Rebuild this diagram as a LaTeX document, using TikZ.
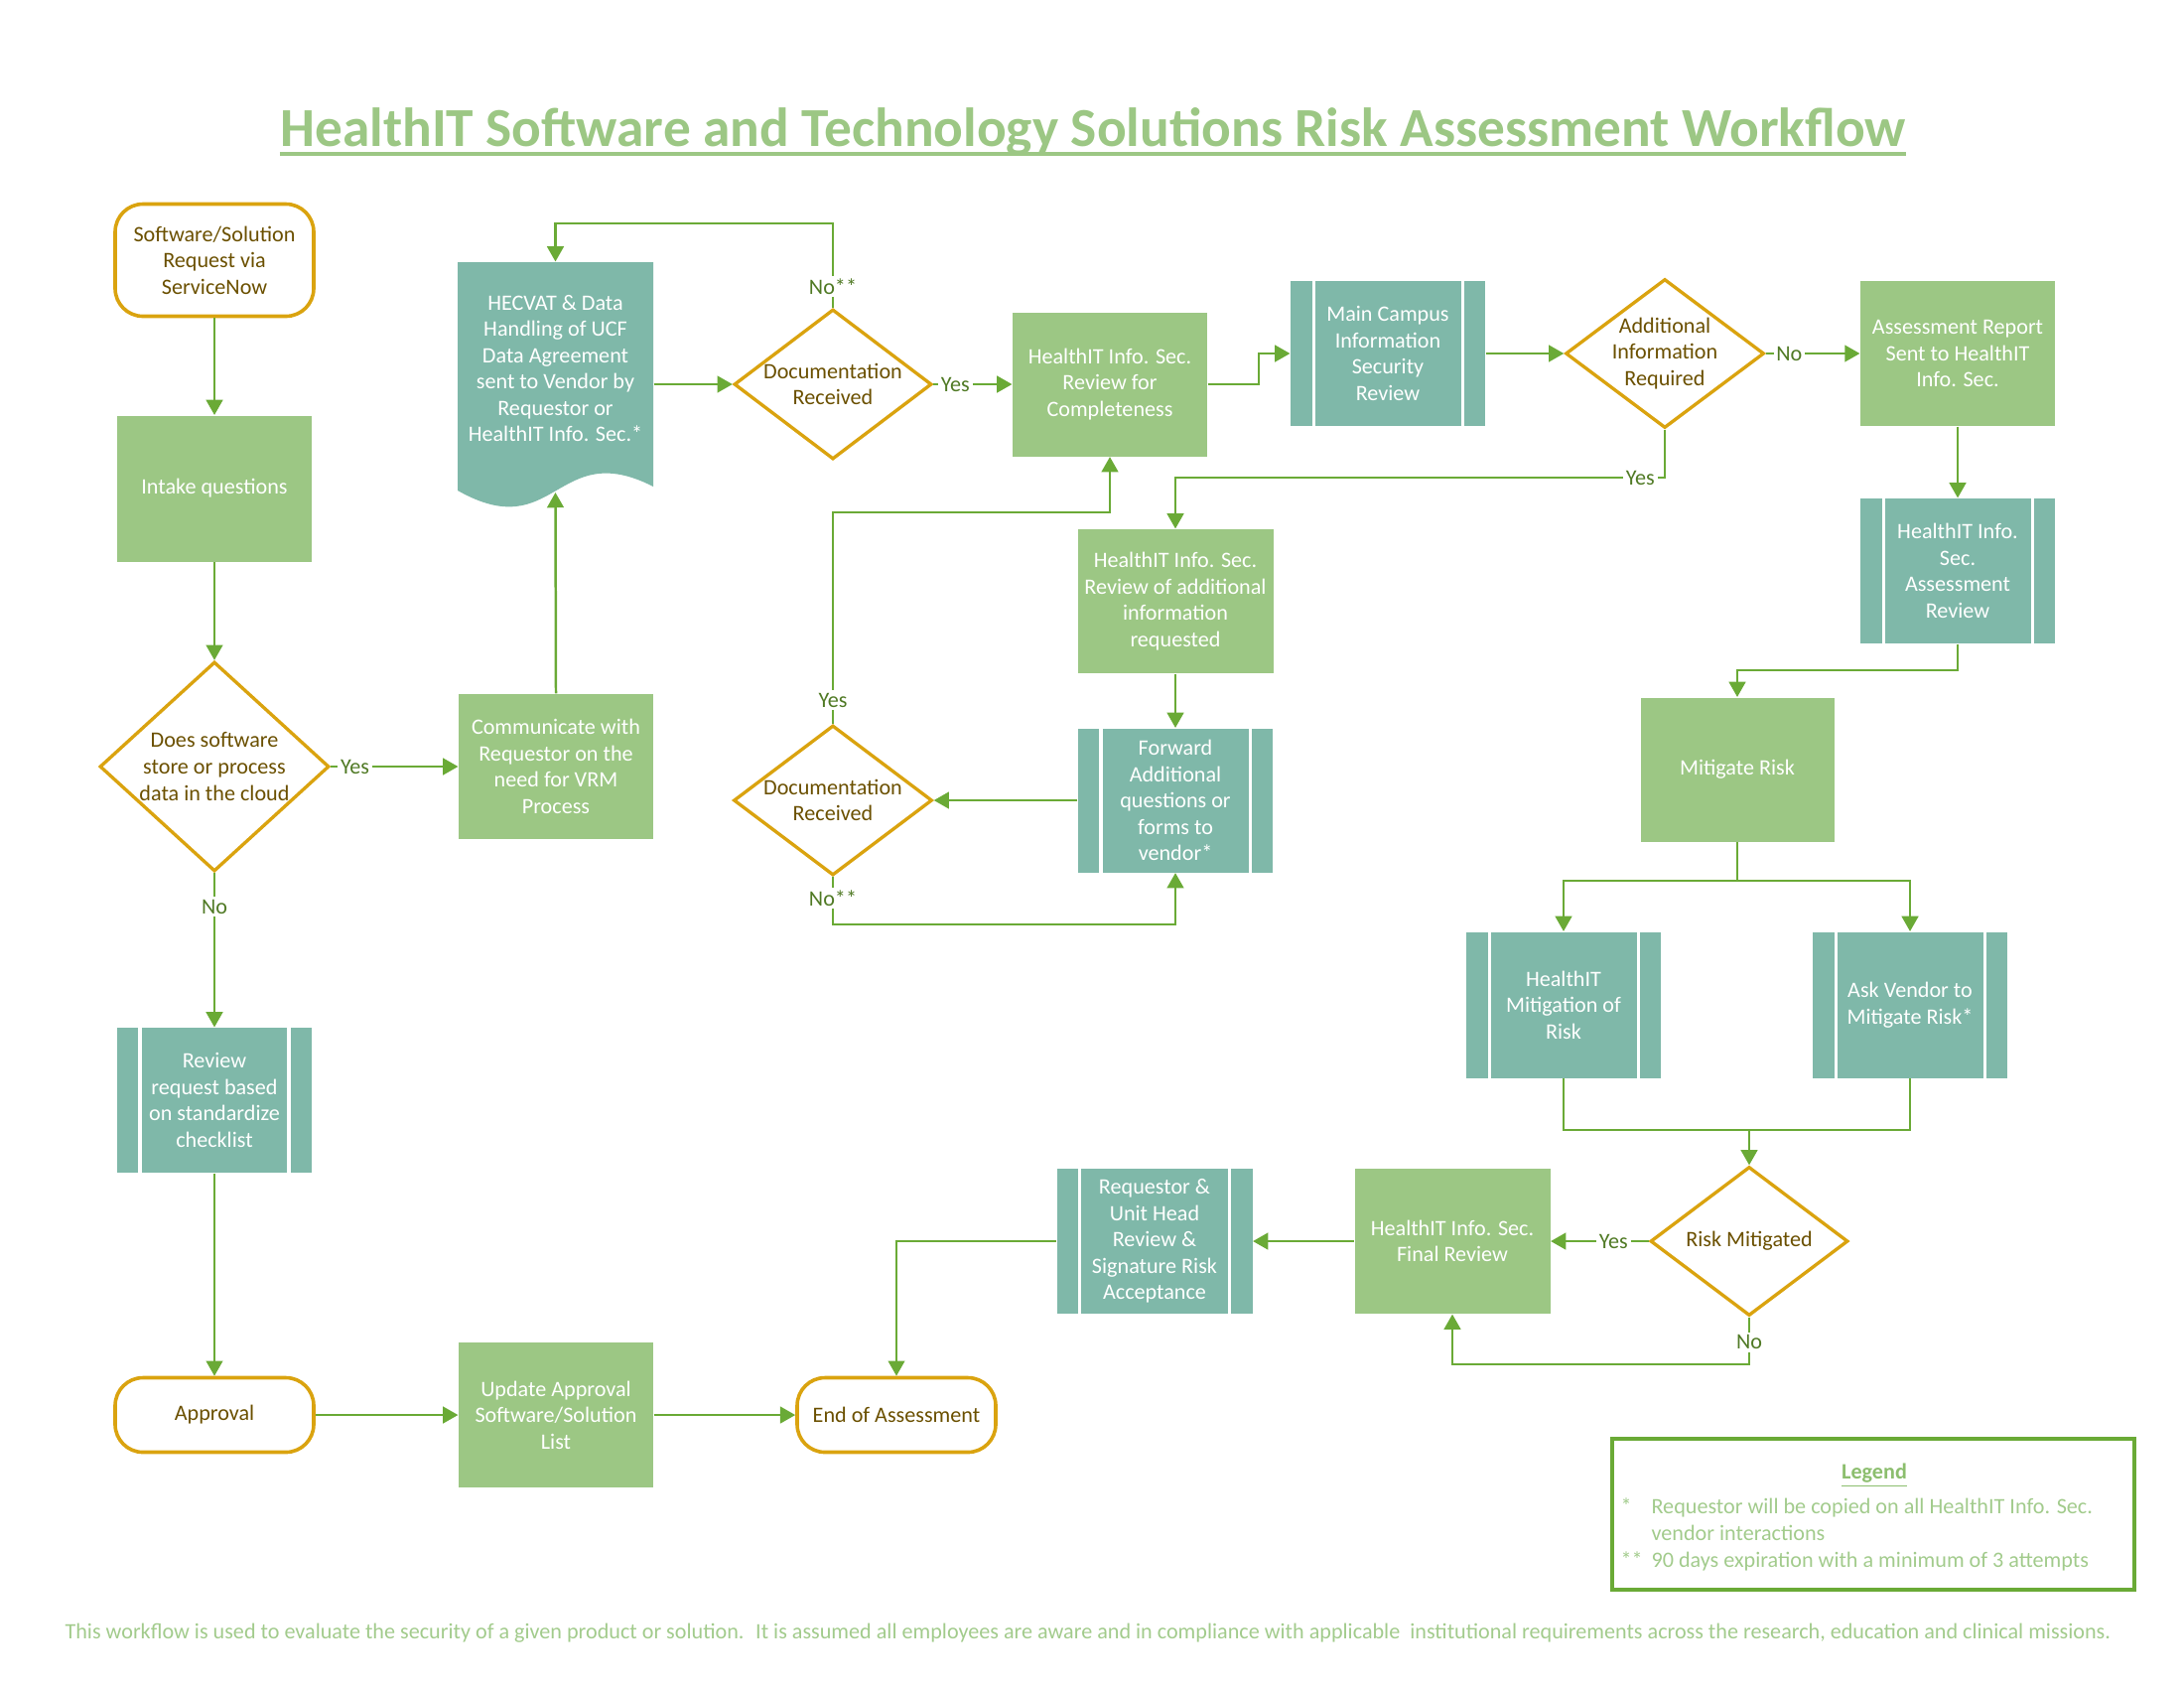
\documentclass[tikz,border=0pt]{standalone}
\usepackage{fontspec}
\setmainfont{Carlito}
\usetikzlibrary{shapes.geometric,arrows.meta,calc}
\newdimen\pxu \pxu=0.0127cm
\definecolor{boxgreen}{HTML}{9CC784}
\definecolor{tealbox}{HTML}{7FB8A9}
\definecolor{linegreen}{HTML}{6AAA36}
\definecolor{gold}{HTML}{DAA30F}
\definecolor{dtxt}{HTML}{6B5000}
\definecolor{labgreen}{HTML}{507A25}
\definecolor{lightgreen}{HTML}{A2CB8C}
\definecolor{leggreen}{HTML}{8CBE6E}
\begin{document}
\begin{tikzpicture}[x=0.0127cm,y=-0.0127cm,
 base/.style={font=\fontsize{8}{9.6}\selectfont, align=center, inner sep=0pt},
 procbox/.style={base, rectangle, fill=boxgreen, text=white, minimum width=196\pxu, minimum height=146\pxu},
 predef/.style={procbox, fill=tealbox, path picture={
   \draw[white,line width=1.1pt] ([xshift=23\pxu]path picture bounding box.north west) -- ([xshift=23\pxu]path picture bounding box.south west);
   \draw[white,line width=1.1pt] ([xshift=-23\pxu]path picture bounding box.north east) -- ([xshift=-23\pxu]path picture bounding box.south east);}},
 decision/.style={diamond, draw=gold, line width=1.2pt, fill=white, inner sep=0pt, minimum width=200\pxu, minimum height=151\pxu},
 dlab/.style={base, text=dtxt},
 terminal/.style={base, rectangle, rounded corners=28\pxu, draw=gold, line width=1.3pt, text=dtxt, minimum width=200\pxu, minimum height=75\pxu},
 flow/.style={draw=linegreen, line width=0.9pt, -{Triangle[length=5.5pt,width=6pt]}},
 plainline/.style={draw=linegreen, line width=0.9pt},
 lab/.style={base, text=labgreen, fill=white, inner sep=1pt},
 legtext/.style={font=\fontsize{8}{9.6}\selectfont, text=lightgreen, inner sep=0pt, anchor=base west}
]
\useasboundingbox (0,0) rectangle (2200,1700);

% title
\node[font=\fontsize{20}{24}\selectfont\bfseries, text=boxgreen, inner sep=0pt, anchor=base] (title) at (1101,147) {HealthIT Software and Technology Solutions Risk Assessment Workflow};
\draw[boxgreen, line width=1.2pt] ($(title.base west)+(0,8)$) -- ($(title.base east)+(0,8)$);

% left column
\node[terminal, minimum height=113\pxu] (start) at (216,262) {Software/Solution\\Request via\\ServiceNow};
\node[procbox, minimum height=147\pxu] (intake) at (216,492) {Intake questions};
\node[decision, minimum width=231\pxu, minimum height=211\pxu, label={[dlab]center:{Does software\\store or process\\data in the cloud}}] (cloud) at (216,772) {};
\node[procbox] (comm) at (560,772) {Communicate with\\Requestor on the\\need for VRM\\Process};
\node[predef] (check) at (216,1108) {Review\\request based\\on standardize\\checklist};
\node[terminal] (approval) at (216,1425) {Approval};
\node[procbox] (update) at (560,1425) {Update Approval\\Software/Solution\\List};
\node[terminal] (endt) at (903,1425) {End of Assessment};

% document shape
\fill[tealbox] (461,264) -- (658,264) -- (658,490) .. controls (560,440) and (560,550) .. (461,494) -- cycle;
\node[base, text=white, minimum width=197\pxu, minimum height=230\pxu, label={[base,text=white,yshift=8\pxu]center:{HECVAT \& Data\\Handling of UCF\\Data Agreement\\sent to Vendor by\\Requestor or\\HealthIT Info. Sec.*}}] (hecvat) at (559.5,379) {};
\coordinate (hecvatwave) at (559.5,496);

% top row
\node[decision, minimum width=199\pxu, label={[dlab]center:{Documentation\\Received}}] (doc1) at (839,387) {};
\node[procbox, minimum height=145\pxu] (review) at (1118,387) {HealthIT Info. Sec.\\Review for\\Completeness};
\node[predef] (maincampus) at (1398,356) {Main Campus\\Information\\Security\\Review};
\node[decision, minimum height=150\pxu, label={[dlab]center:{Additional\\Information\\Required}}] (addinfo) at (1677,356) {};
\node[procbox] (report) at (1972,356) {Assessment Report\\Sent to HealthIT\\Info. Sec.};
\node[predef] (assessrev) at (1972,575) {HealthIT Info.\\Sec.\\Assessment\\Review};

% middle
\node[procbox, minimum width=197\pxu, minimum height=145\pxu] (revadd) at (1184,605.5) {HealthIT Info. Sec.\\Review of additional\\information\\requested};
\node[predef, minimum height=145\pxu] (forward) at (1184,806) {Forward\\Additional\\questions or\\forms to\\vendor*};
\node[decision, label={[dlab]center:{Documentation\\Received}}] (doc2) at (839,806) {};
\node[procbox, minimum width=195\pxu, minimum height=145\pxu] (mitigate) at (1750,775) {Mitigate Risk};
\node[predef, minimum height=147\pxu] (hitmit) at (1575,1012) {HealthIT\\Mitigation of\\Risk};
\node[predef, minimum height=147\pxu] (askv) at (1924,1012) {Ask Vendor to\\Mitigate Risk*};

% bottom right
\node[decision, minimum width=199\pxu, minimum height=150\pxu, label={[dlab]center:{Risk Mitigated}}] (risk) at (1762,1250) {};
\node[procbox, minimum width=197\pxu] (final) at (1463,1250) {HealthIT Info. Sec.\\Final Review};
\node[predef, minimum width=197\pxu] (requestor) at (1163,1250) {Requestor \&\\Unit Head\\Review \&\\Signature Risk\\Acceptance};

\coordinate (split) at (1750,887);
\coordinate (merge) at (1762,1138);

% connectors
\draw[flow] (start.south) -- (intake.north);
\draw[flow] (intake.south) -- (cloud.north);
\draw[flow] (cloud.east) -- node[lab,pos=0.19]{Yes} (comm.west);
\draw[flow] (cloud.south) -- node[lab,pos=0.22]{No} (check.north);
\draw[flow] (check.south) -- (approval.north);
\draw[flow] (approval.east) -- (update.west);
\draw[flow] (update.east) -- (endt.west);
\draw[flow] (comm.north) -- (hecvatwave);
\draw[flow] (hecvat.east |- doc1.west) -- (doc1.west);
\draw[flow] (doc1.north) -- node[lab,pos=0.25]{No**} (839,225) -| (hecvat.north);
\draw[flow] (doc1.east) -- node[lab,pos=0.28]{Yes} (review.west);
\draw[flow] (review.east) -- (1268,387) |- (maincampus.west);
\draw[flow] (maincampus.east) -- (addinfo.west);
\draw[flow] (addinfo.east) -- node[lab,pos=0.25]{No} (report.west);
\draw[flow] (addinfo.south) -- (1677,481) -- node[lab,pos=0.05]{Yes} (1184,481) -- (revadd.north);
\draw[flow] (revadd.south) -- (forward.north);
\draw[flow] (forward.west) -- (doc2.east);
\draw[flow] (doc2.south) -- node[lab,pos=0.45]{No**} (839,931) -| (forward.south);
\draw[flow] (doc2.north) -- node[lab,pos=0.11]{Yes} (839,516) -| (review.south);
\draw[flow] (report.south) -- (assessrev.north);
\draw[flow] (assessrev.south) -- (1972,675) -| (mitigate.north);
\draw[plainline] (mitigate.south) -- (split);
\draw[flow] (split) -| (hitmit.north);
\draw[flow] (split) -| (askv.north);
\draw[plainline] (hitmit.south) |- (merge);
\draw[flow] (askv.south) |- (merge) -- (risk.north);
\draw[flow] (risk.west) -- node[lab,pos=0.36]{Yes} (final.east);
\draw[flow] (risk.south) -- node[lab,pos=0.53]{No} (1762,1374) -| (final.south);
\draw[flow] (final.west) -- (requestor.east);
\draw[flow] (requestor.west) -| (endt.north);

% legend
\node[draw=linegreen, line width=1.5pt, minimum width=526\pxu, minimum height=152\pxu, inner sep=0pt] (legend) at (1887,1525) {};
\node[font=\fontsize{8}{9.6}\selectfont\bfseries, text=leggreen, inner sep=0pt] (legtitle) at (1888,1486) {\underline{Legend}};
\node[legtext] (star1) at (1632,1524) {*};
\node[legtext] (leg1) at (1663,1524) {Requestor will be copied on all HealthIT Info. Sec.};
\node[legtext] (leg2) at (1663,1551) {vendor interactions};
\node[legtext] (star2) at (1632,1578) {**};
\node[legtext] (leg3) at (1663,1578) {90 days expiration with a minimum of 3 attempts};

% footer
\node[font=\fontsize{8}{9.6}\selectfont, text=lightgreen, inner sep=0pt, anchor=base west] (footer) at (65,1650) {This workflow is used to evaluate the security of a given product or solution.~ It is assumed all employees are aware and in compliance with applicable~ institutional requirements across the research, education and clinical missions.};
\end{tikzpicture}
\end{document}
